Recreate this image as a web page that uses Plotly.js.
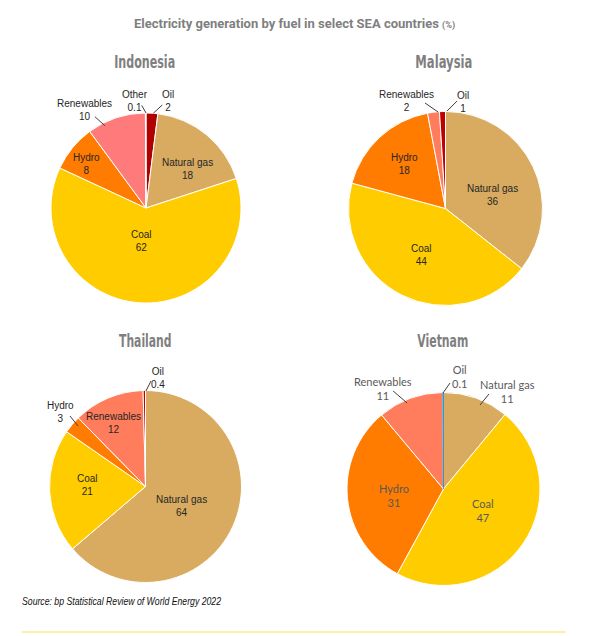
<!DOCTYPE html>
<html><head><meta charset="utf-8">
<script src="https://cdn.plot.ly/plotly-3.0.1.min.js"></script>
<style>html,body{margin:0;padding:0;background:#fff}#chart{width:592px;height:636px}</style>
</head><body><div id="chart"></div>
<script>
// ---- data ----
const countries = ['Indonesia', 'Malaysia', 'Thailand', 'Vietnam'];
const fuels_ID = ['Oil', 'Natural gas', 'Coal', 'Hydro', 'Renewables', 'Other'];
const values_ID = [2, 18, 62, 8, 10, 0.1];
const fuels_MY = ['Natural gas', 'Coal', 'Hydro', 'Renewables', 'Oil'];
const values_MY = [36, 44, 18, 2, 1];
const fuels_TH = ['Natural gas', 'Coal', 'Hydro', 'Renewables', 'Oil'];
const values_TH = [64, 21, 3, 12, 0.4];
const fuels_VN = ['Natural gas', 'Coal', 'Hydro', 'Renewables', 'Oil'];
const values_VN = [11, 47, 31, 11, 0.1];
const chartTitle = 'Electricity generation by fuel in select SEA countries';
const unitLabel = '(%)';
const sourceText = 'Source: bp Statistical Review of World Energy 2022';

// ---- styling / layout ----
const W = 592, H = 636;
const colorsBase = {'Oil': '#c00000', 'Natural gas': '#d8ab60', 'Coal': '#ffcc00', 'Hydro': '#ff7c00', 'Renewables': '#ff7d5c', 'Other': '#ffffff'};
const colorOverrides = {
  Indonesia: {'Renewables': '#ff7b7b', 'Oil': '#b00000'},
  Malaysia: {}, Thailand: {}, Vietnam: {'Oil': '#33a3dc'}
};
const lineOverrides = {Vietnam: {'Oil': '#2b9bd6'}};
const fontArial = {family: 'Liberation Sans, Arial, sans-serif', size: 10, color: '#262626'};
const fontCalibri = {family: 'Lato, Carlito, Calibri, sans-serif', size: 11, color: '#595959'};
const headFont = 'DejaVu Sans, sans-serif';

// label placement: in -> [k, dTheta]; out -> [k, dTheta, lineDx, lineDy, textDx, textDy]
const geo = {
  Indonesia: {cx: 146, cy: 208, r: 95, font: fontArial, fuels: fuels_ID, values: values_ID,
    lab: [['out', 1.0, 0.8, 9, -8.3, 14.7, -12.5], ['in', 0.603, 7.5], ['in', 0.35, 3.5], ['in', 0.778, -2.3],
          ['out', 0.968, -8.2, -10, -9, -20, -16], ['out', 1.0, 0.2, -4.3, -7.6, -11.3, -12.5]]},
  Malaysia: {cx: 445.5, cy: 208.5, r: 97, font: fontArial, fuels: fuels_MY, values: values_MY,
    lab: [['in', 0.509, 9.9], ['in', 0.544, 0.9], ['in', 0.62, 0.3],
          ['out', 0.998, 2.7, -13, -9, -31.3, -10.5], ['out', 1.005, 2.7, 10, -10, 15.7, -9.5]]},
  Thailand: {cx: 145.5, cy: 486.5, r: 96, font: fontArial, fuels: fuels_TH, values: values_TH,
    lab: [['in', 0.431, 3.4], ['in', 0.609, 4], ['out', 0.944, 1.7, -8, -10, -18, -14.3],
          ['in', 0.738, -3.5], ['out', 0.995, 1, 5, -10, 12, -13]]},
  Vietnam: {cx: 443.5, cy: 489, r: 96.5, font: fontCalibri, fuels: fuels_VN, values: values_VN,
    lab: [['out', 0.949, 3.7, 9, -11, 28, -13.5], ['in', 0.468, -5], ['in', 0.516, -2.4],
          ['out', 0.968, -2.8, -14, -12, -24, -14], ['out', 0.995, -0.1, 7, -10, 16, -16]]}
};
// heading position [x, y] and condensed width (Impact-like look)
const titlePos = {Indonesia: [144, 62, 61], Malaysia: [444, 62, 57], Thailand: [145, 341, 52.5], Vietnam: [443, 341, 51]};

const px = x => x / W, py = y => 1 - y / H;
const traces = [], annotations = [], shapes = [];
const squeeze = {};

countries.forEach(c => {
  const g = geo[c];
  const cols = g.fuels.map(f => (colorOverrides[c][f] || colorsBase[f]));
  const lcols = g.fuels.map(f => ((lineOverrides[c] && lineOverrides[c][f]) || '#ffffff'));
  traces.push({
    type: 'pie', name: c, labels: g.fuels, values: g.values, sort: false, direction: 'clockwise', rotation: 0,
    textinfo: 'none', hoverinfo: 'label+value', showlegend: false,
    marker: {colors: cols, line: {color: lcols, width: 1}},
    domain: {x: [px(g.cx - g.r), px(g.cx + g.r)], y: [py(g.cy + g.r), py(g.cy - g.r)]}
  });
  const total = g.values.reduce((a, b) => a + b, 0);
  let cum = 0;
  g.values.forEach((v, i) => {
    const mid = (cum + v / 2) / total * 360;
    cum += v;
    const L = g.lab[i];
    const ang = (mid + L[2]) * Math.PI / 180;
    const ax = g.cx + g.r * L[1] * Math.sin(ang);
    const ay = g.cy - g.r * L[1] * Math.cos(ang);
    const txt = g.fuels[i] + '<br>' + String(v);
    if (L[0] === 'in') {
      annotations.push({xref: 'paper', yref: 'paper', x: px(ax), y: py(ay), text: txt, showarrow: false,
        xanchor: 'center', yanchor: 'middle', font: g.font});
    } else {
      shapes.push({type: 'line', xref: 'paper', yref: 'paper', x0: px(ax), y0: py(ay), x1: px(ax + L[3]), y1: py(ay + L[4]),
        line: {color: '#404040', width: 1}});
      annotations.push({xref: 'paper', yref: 'paper', x: px(ax + L[5]), y: py(ay + L[6]), text: txt, showarrow: false,
        xanchor: 'center', yanchor: 'middle', font: g.font});
    }
  });
  annotations.push({xref: 'paper', yref: 'paper', x: px(titlePos[c][0]), y: py(titlePos[c][1]), text: c, showarrow: false,
    xanchor: 'center', yanchor: 'middle', font: {family: headFont, size: 17, weight: 'bold', color: '#7f7f7f'}});
  squeeze[c] = titlePos[c][2];
});

const srcWidth = 199;
annotations.push({xref: 'paper', yref: 'paper', x: px(22 + srcWidth / 2), y: py(601), text: sourceText, showarrow: false,
  xanchor: 'center', yanchor: 'middle', font: {family: 'Liberation Sans, Arial, sans-serif', size: 10, style: 'italic', color: '#111111'}});
squeeze[sourceText] = srcWidth;
shapes.push({type: 'line', xref: 'paper', yref: 'paper', x0: px(22), x1: px(566), y0: py(632), y1: py(632), line: {color: '#ffea8f', width: 1.5}});

const layout = {
  width: W, height: H, margin: {l: 0, r: 0, t: 0, b: 0}, paper_bgcolor: '#ffffff', showlegend: false,
  title: {text: chartTitle + ' <span style="font-size:9px">' + unitLabel + '</span>',
    x: px(294.5), y: py(23), xanchor: 'center', yanchor: 'middle',
    font: {family: 'Roboto, Liberation Sans, sans-serif', size: 13, weight: 'bold', color: '#7f7f7f'}},
  annotations: annotations, shapes: shapes
};
Plotly.newPlot('chart', traces, layout, {displayModeBar: false, staticPlot: true}).then(gd => {
  // condense the heading fonts to mimic the narrow display face of the original
  gd.querySelectorAll('.annotation-text').forEach(el => {
    const t = el.textContent;
    if (squeeze[t] !== undefined) {
      el.setAttribute('textLength', squeeze[t]);
      el.setAttribute('lengthAdjust', 'spacingAndGlyphs');
    }
  });
});
</script>
</body></html>
